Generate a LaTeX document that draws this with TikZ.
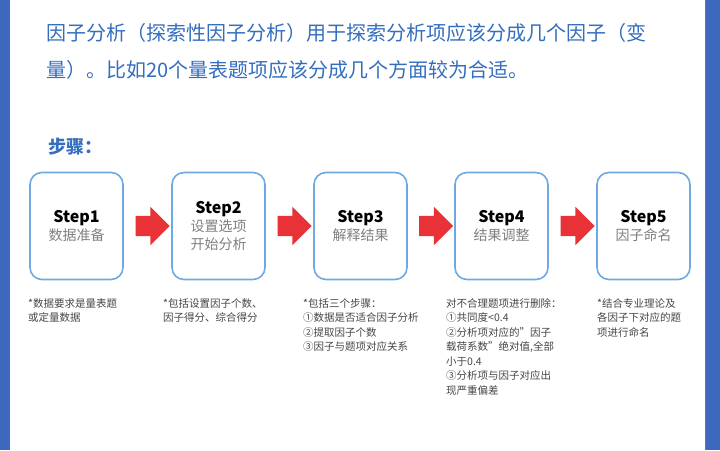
\documentclass[tikz,border=0pt]{standalone}
\usepackage{fontspec}
\setmainfont{Noto Sans CJK SC}
\usetikzlibrary{positioning,calc,shapes.arrows}
\definecolor{framebl}{RGB}{62,104,190}
\definecolor{titlebl}{RGB}{52,110,190}
\definecolor{boxbl}{RGB}{110,170,225}
\definecolor{arrred}{RGB}{232,50,55}
\definecolor{notegr}{RGB}{70,70,70}
\tikzset{
  stepbox/.style={draw=boxbl, line width=1.6pt, rounded corners=12pt, fill=white,
    minimum width=93pt, minimum height=107pt, align=center, inner sep=0pt,
    font=\fontsize{14}{18}\selectfont, text=gray},
  redarrow/.style={single arrow, fill=arrred, draw=none, minimum height=34pt,
    inner xsep=0pt, inner ysep=10pt, single arrow head extend=9pt},
  note/.style={font=\fontsize{10.5}{14.5}\selectfont, text=notegr, align=left, anchor=north west, inner sep=0pt}
}
\newcommand{\steplabel}[1]{\textcolor{black}{\fontsize{16}{18}\selectfont\bfseries #1}}
\begin{document}
\begin{tikzpicture}[x=1pt,y=-1pt]
		\useasboundingbox (0,0) rectangle (720,450);
		% Frame
		\fill[framebl] (0,0) rectangle (720,450);
		\fill[white, rounded corners=10pt] (10,-12) rectangle (705,462);

		% Heading
		\node[anchor=west, text=titlebl, font=\fontsize{20}{24}\selectfont, inner sep=0pt] (head1) at (46,33)
			{因子分析（探索性因子分析）用于探索分析项应该分成几个因子（变};
		\node[anchor=west, text=titlebl, font=\fontsize{20}{24}\selectfont, inner sep=0pt] (head2) at (46,70)
			{量）。比如20个量表题项应该分成几个方面较为合适。};
		\node[anchor=west, text=titlebl, font=\fontsize{18}{20}\selectfont\bfseries, inner sep=0pt] (steps) at (48,147) {步骤：};

		% Step boxes
		\node[stepbox] (s1) at (76.5,226) {\steplabel{Step1}\\数据准备};
		\node[stepbox] (s2) at (218.5,226) {\steplabel{Step2}\\设置选项\\开始分析};
		\node[stepbox] (s3) at (360.5,226) {\steplabel{Step3}\\解释结果};
		\node[stepbox] (s4) at (501.5,226) {\steplabel{Step4}\\结果调整};
		\node[stepbox] (s5) at (643.5,226) {\steplabel{Step5}\\因子命名};

		% Arrows between boxes
		\foreach \a/\b in {s1/s2,s2/s3,s3/s4,s4/s5}{
				\node[redarrow] (arr-\a) at ($(\a.east)!0.5!(\b.west)$) {};
			}

		% Notes
		\node[note] (n1) at (28,298) {*数据要求是量表题\\或定量数据};
		\node[note] (n2) at (163,298) {*包括设置因子个数、\\因子得分、综合得分};
		\node[note] (n3) at (303,298) {*包括三个步骤：\\①数据是否适合因子分析\\②提取因子个数\\③因子与题项对应关系};
		\node[note] (n4) at (446,298) {对不合理题项进行删除：\\①共同度<0.4\\②分析项对应的”因子\\载荷系数”绝对值,全部\\小于0.4\\③分析项与因子对应出\\现严重偏差};
		\node[note] (n5) at (597,298) {*结合专业理论及\\各因子下对应的题\\项进行命名};
	\end{tikzpicture}
\end{document}
